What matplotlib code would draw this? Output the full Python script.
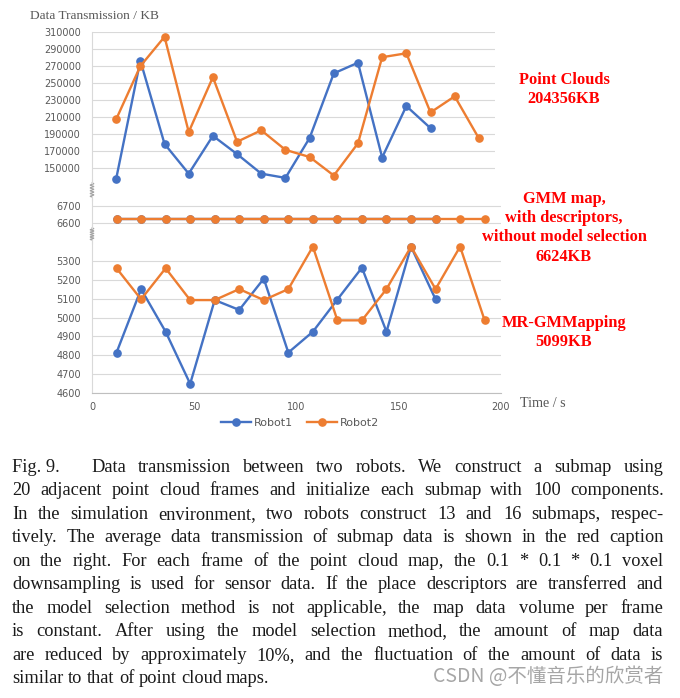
import matplotlib
matplotlib.use('Agg')
import matplotlib.pyplot as plt
from matplotlib.lines import Line2D
import numpy as np

# ---------------- data ----------------
t_robot1 = [12, 24, 36, 48, 60, 72, 84, 96, 108, 120, 132, 144, 156, 168]
t_robot2 = [12, 24, 36, 48, 60, 72, 84, 96, 108, 120, 132, 144, 156, 168, 180, 192]

pc_robot1 = [137000, 276000, 178000, 143000, 187500, 166000, 143000, 138000,
             185000, 261000, 273500, 162000, 222500, 196500]
pc_robot2 = [207000, 269500, 304000, 192000, 256500, 180500, 194000, 171000,
             162600, 140800, 178700, 280000, 284600, 215000, 234000, 184500]

gmm_robot1 = [6624, 6624, 6624, 6624, 6624, 6624, 6624, 6624, 6624, 6624, 6624,
              6624, 6624, 6624]
gmm_robot2 = [6624, 6624, 6624, 6624, 6624, 6624, 6624, 6624, 6624, 6624, 6624,
              6624, 6624, 6624, 6624, 6624]

mr_robot1 = [4815, 5150, 4925, 4650, 5092, 5040, 5205, 4815, 4925, 5095, 5263,
             4925, 5374, 5096]
mr_robot2 = [5260, 5096, 5260, 5092, 5092, 5150, 5092, 5150, 5374, 4985, 4985,
             5150, 5374, 5150, 5374, 4985]

series_names = ['Robot1', 'Robot2']
top_ticks = [150000, 170000, 190000, 210000, 230000, 250000, 270000, 290000, 310000]
mid_ticks = [6600, 6700]
bot_ticks = [4600, 4700, 4800, 4900, 5000, 5100, 5200, 5300]
x_ticks = [0, 50, 100, 150, 200]

caption_label = "Fig. 9."
caption_lines = [
    "Data transmission between two robots. We construct a submap using",
    "20 adjacent point cloud frames and initialize each submap with 100 components.",
    "In the simulation environment, two robots construct 13 and 16 submaps, respec-",
    "tively. The average data transmission of submap data is shown in the red caption",
    "on the right. For each frame of the point cloud map, the 0.1 * 0.1 * 0.1 voxel",
    "downsampling is used for sensor data. If the place descriptors are transferred and",
    "the model selection method is not applicable, the map data volume per frame",
    "is constant. After using the model selection method, the amount of map data",
    "are reduced by approximately 10%, and the fluctuation of the amount of data is",
    "similar to that of point cloud maps.",
]

# ---------------- style ----------------
W, H = 680, 698
C1 = '#4472C4'
C2 = '#ED7D31'
GRID = '#D9D9D9'
TXT = '#595959'
SERIF = 'Liberation Serif'

fig = plt.figure(figsize=(W / 100, H / 100), dpi=100)


def fx(px):
    return px / W


def fy(py):
    return 1 - py / H


def add_ax(l, t, r, b):
    return fig.add_axes([fx(l), fy(b), (r - l) / W, (b - t) / H])


def style(ax, ticks, bottom=False):
    ax.set_xlim(0, 200)
    ax.set_yticks(ticks)
    ax.grid(axis='y', color=GRID, lw=0.8)
    ax.set_axisbelow(True)
    for s in ['top', 'right']:
        ax.spines[s].set_visible(False)
    ax.spines['left'].set_color(GRID)
    ax.spines['left'].set_linewidth(0.8)
    ax.tick_params(axis='y', length=0, labelsize=7, labelcolor=TXT, pad=8)
    if bottom:
        ax.spines['bottom'].set_color('#BFBFBF')
        ax.spines['bottom'].set_linewidth(0.8)
        ax.set_xticks(x_ticks)
        ax.tick_params(axis='x', length=0, labelsize=7, labelcolor=TXT, pad=6)
    else:
        ax.spines['bottom'].set_visible(False)
        ax.set_xticks([])


def plot_series(ax, y1, y2):
    ax.plot(t_robot1, y1, color=C1, lw=1.7, marker='o', ms=5.2, label=series_names[0])
    ax.plot(t_robot2, y2, color=C2, lw=1.7, marker='o', ms=5.2, label=series_names[1])


ax_top = add_ax(92, 31.7, 495, 183)
style(ax_top, top_ticks)
ax_top.set_ylim(132000, 310000)
plot_series(ax_top, pc_robot1, pc_robot2)

ax_mid = add_ax(92, 199, 501, 229)
style(ax_mid, mid_ticks)
ax_mid.set_ylim(6568, 6738)
plot_series(ax_mid, gmm_robot1, gmm_robot2)

ax_bot = add_ax(92, 240, 501, 393.3)
style(ax_bot, bot_ticks, bottom=True)
ax_bot.set_ylim(4600, 5409)
plot_series(ax_bot, mr_robot1, mr_robot2)

for a in (ax_top, ax_mid, ax_bot):
    for ln in a.get_lines():
        ln.set_clip_on(False)


# axis break squiggles
def squiggle(y0, y1):
    yy = np.linspace(y0, y1, 60)
    xx = 92 + 1.8 * np.sin((yy - y0) / (y1 - y0) * 2 * np.pi * 5)
    fig.add_artist(Line2D([fx(v) for v in xx], [fy(v) for v in yy],
                          transform=fig.transFigure, color='#A6A6A6', lw=0.8))
    fig.add_artist(Line2D([fx(92), fx(92)], [fy(y0 - 3), fy(y0)],
                          transform=fig.transFigure, color=GRID, lw=0.8))
    fig.add_artist(Line2D([fx(92), fx(92)], [fy(y1), fy(y1 + 3)],
                          transform=fig.transFigure, color=GRID, lw=0.8))


squiggle(183, 197)
squiggle(228, 240)

# titles
fig.text(fx(30), fy(16), 'Data Transmission / KB', family=SERIF, fontsize=9.6,
         color=TXT, ha='left', va='center')
fig.text(fx(520), fy(404), 'Time / s', family=SERIF, fontsize=10.2,
         color=TXT, ha='left', va='center')

# legend
handles, labels = ax_bot.get_legend_handles_labels()
fig.legend(handles, labels, loc='center', bbox_to_anchor=(fx(300), fy(423)),
           ncol=2, frameon=False, fontsize=8, labelcolor=TXT,
           handlelength=2.7, handletextpad=0.25, columnspacing=1.3,
           borderpad=0, borderaxespad=0)

# red annotations
red_blocks = [
    (['Point Clouds', '204356KB'], [80, 99]),
    (['GMM map,', 'with descriptors,', 'without model selection', '6624KB'],
     [199, 218, 237, 257]),
    (['MR-GMMapping', '5099KB'], [323, 342]),
]
for lines, ys in red_blocks:
    for s, yv in zip(lines, ys):
        fig.text(fx(564), fy(yv), s, family=SERIF, fontsize=11.8,
                 fontweight='bold', color='#FF0000', ha='center', va='center')

# ---------------- caption (justified, word by word) ----------------
renderer = fig.canvas.get_renderer()
BASE = 10.0


def width(s, fs=BASE):
    t = fig.text(0, 0, s, family=SERIF, fontsize=fs)
    w = t.get_window_extent(renderer).width
    t.remove()
    return w


sp_base = width('a a') - width('aa')
x_left, x_right = 12, 663
first_start = 91
line_words = [ln.split(' ') for ln in caption_lines]
word_w = [[width(w) for w in ws] for ws in line_words]

fs = 13.2
for i, (ws, ww) in enumerate(zip(line_words, word_w)):
    if i == len(line_words) - 1:
        continue
    start = first_start if i == 0 else x_left
    target = x_right - start
    need = sum(ww) + (len(ww) - 1) * 0.35 * sp_base
    fs = min(fs, target / need * BASE)

scale = fs / BASE
baseline0 = 471.7
step = 23.5
fig.text(fx(x_left), fy(round(baseline0)), caption_label, family=SERIF, fontsize=fs,
         color='#1a1a1a', ha='left', va='baseline')
for i, (ws, ww) in enumerate(zip(line_words, word_w)):
    yb = round(baseline0 + i * step)
    start = first_start if i == 0 else x_left
    ww_s = [v * scale for v in ww]
    if i == len(line_words) - 1:
        gap = sp_base * scale
    else:
        gap = (x_right - start - sum(ww_s)) / (len(ww_s) - 1)
    x = start
    for w, wpx in zip(ws, ww_s):
        fig.text(fx(x), fy(yb), w, family=SERIF, fontsize=fs, color='#1a1a1a',
                 ha='left', va='baseline')
        x += wpx + gap

# watermark
fig.text(fx(663), fy(677), 'CSDN @不懂音乐的欣赏者',
         family=['Noto Sans CJK SC', 'DejaVu Sans'], fontsize=14,
         color='#A6A6A6', ha='right', va='center')

fig.savefig('out.png', dpi=100)
